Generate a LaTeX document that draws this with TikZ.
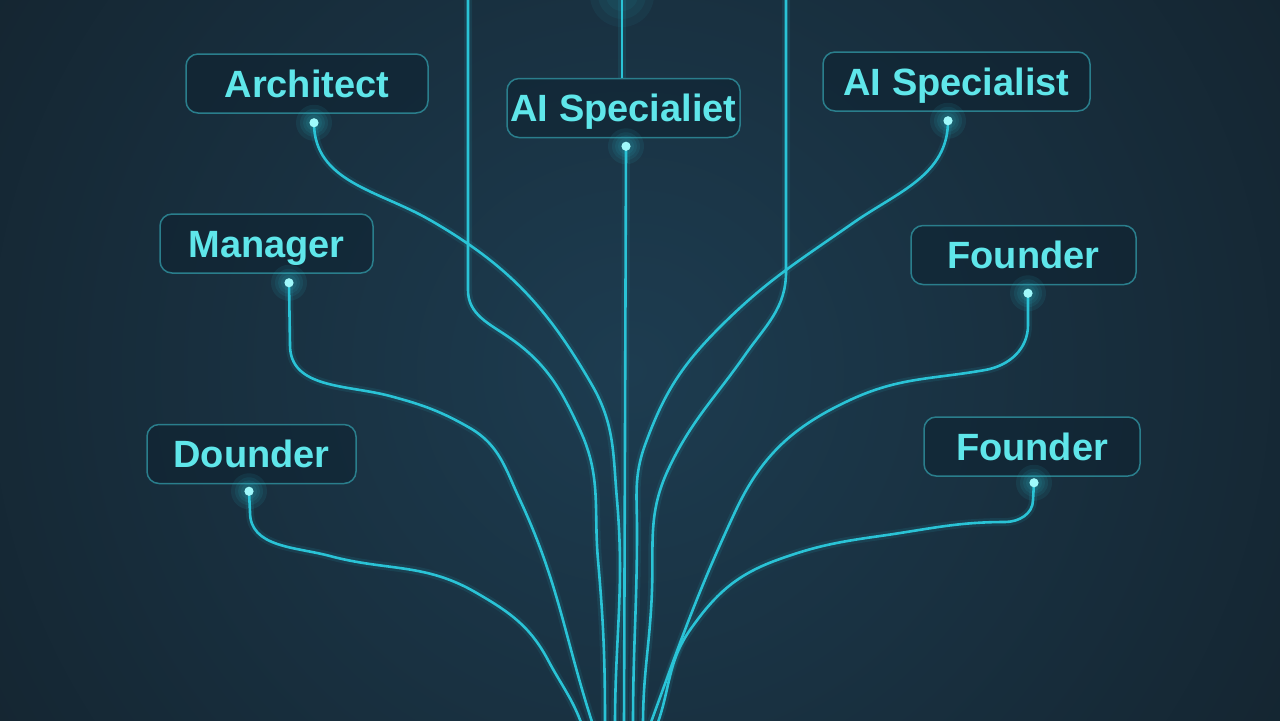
\documentclass[tikz,border=0pt]{standalone}
\usepackage{fontspec}
\setmainfont{Liberation Sans}
\usetikzlibrary{positioning, calc}
\definecolor{bgIn}{HTML}{1D3C50}
\definecolor{bgOut}{HTML}{0E151B}
\definecolor{wireCol}{HTML}{2AC3D6}
\definecolor{rimCol}{HTML}{2A7E8C}
\definecolor{labelCol}{HTML}{5FE6EA}
\definecolor{sparkCol}{HTML}{A0F9FB}
\definecolor{boxCol}{HTML}{0E2230}
\tikzset{
  role/.style={
    rectangle, draw=rimCol, line width=0.75pt, rounded corners=6pt,
    fill=boxCol, fill opacity=0.55, text opacity=1, text=labelCol,
    font=\bfseries\fontsize{19}{19}\selectfont,
    text height=13.6pt, text depth=0pt, minimum height=29.5pt, inner sep=0pt
  },
  wire/.style={draw=wireCol, line width=1.3pt,
    preaction={draw=wireCol, line width=4pt, opacity=0.1}},
  halo/.style={fill=wireCol, opacity=0.09},
  spark/.style={fill=sparkCol}
}

\begin{document}
\begin{tikzpicture}[x=0.5pt, y=-0.5pt]
    \useasboundingbox (0,0) rectangle (1280,720);
    \clip (0,0) rectangle (1280,720);
    \fill[bgOut] (0,0) rectangle (1280,720);
    \shade[inner color=bgIn, outer color=bgOut] (630,370) circle (640pt);

    % role boxes
    \node[role, minimum width=121pt] (arch) at (307,83.5) {Architect};
    \node[role, minimum width=116.5pt] (spA) at (623.5,108) {AI Specialiet};
    \node[role, minimum width=133.5pt] (spB) at (956.5,81.5) {AI Specialist};
    \node[role, minimum width=106.5pt] (man) at (266.5,243.5) {Manager};
    \node[role, minimum width=112.5pt] (foA) at (1023.5,255) {Founder};
    \node[role, minimum width=104.5pt] (dou) at (251.5,454) {Dounder};
    \node[role, minimum width=108pt] (foB) at (1032,446.5) {Founder};

    % ports under the boxes
    \coordinate (dArch) at ([xshift=3.5pt, yshift=-4.5pt]arch.south);
    \coordinate (dSpA) at ([xshift=1.25pt, yshift=-4pt]spA.south);
    \coordinate (dSpB) at ([xshift=-4.25pt, yshift=-4.5pt]spB.south);
    \coordinate (dMan) at ([xshift=11.25pt, yshift=-4.5pt]man.south);
    \coordinate (dFoA) at ([xshift=2.25pt, yshift=-4pt]foA.south);
    \coordinate (dDou) at ([xshift=-1.25pt, yshift=-3.5pt]dou.south);
    \coordinate (dFoB) at ([xshift=1pt, yshift=-3pt]foB.south);

    % free ends
    \coordinate (tL) at (468,-5);
    \coordinate (tC) at (622,-5);
    \coordinate (tR) at (786,-5);
    \coordinate (b1) at (582,725);
    \coordinate (b2) at (593,725);
    \coordinate (b3) at (605,725);
    \coordinate (b4) at (615,725);
    \coordinate (b5) at (624,725);
    \coordinate (b6) at (633,725);
    \coordinate (b7) at (643,725);
    \coordinate (b8) at (650,725);
    \coordinate (b9) at (657,725);

    % wires
    \draw[wire] (tC) -- (tC |- spA.north);
    \draw[wire] (dSpA) -- (b5);
    \draw[wire] (tL) -- (468,290) to[out=-90,in=145] (510,338)
      to[out=-35,in=115] (580,430) to[out=-65,in=95] (598,560)
      to[out=-85,in=90] (b3);
    \draw[wire] (tR) -- (786,272) to[out=-90,in=55] (745,355)
      to[out=-125,in=65] (668,470) to[out=-115,in=88] (652,590)
      to[out=-92,in=90] (b7);
    \draw[wire] (dArch) to[out=-90,in=150] (430,220)
      to[out=-30,in=120] (592,385) to[out=-60,in=95] (617,500)
      to[out=-85,in=90] (b4);
    \draw[wire] (dSpB) to[out=-90,in=35] (853,223)
      to[out=-145,in=45] (720,327) to[out=-135,in=70] (645,445)
      to[out=-110,in=90] (637,530) to[out=-90,in=90] (b6);
    \draw[wire] (dMan) -- (290,345) to[out=-90,in=165] (390,396)
      to[out=-15,in=150] (470,428) to[out=-30,in=115] (520,500)
      to[out=-65,in=108] (b2);
    \draw[wire] (dDou) -- (250,512) to[out=-90,in=165] (330,556)
      to[out=-15,in=150] (475,592) to[out=-30,in=118] (548,660)
      to[out=-62,in=110] (b1);
    \draw[wire] (dFoA) -- (1028,325) to[out=-90,in=10] (985,370)
      to[out=-170,in=25] (850,400) to[out=-155,in=65] (735,512)
      to[out=-115,in=70] (b8);
    \draw[wire] (dFoB) -- (1033,500) to[out=-90,in=0] (1005,522)
      to[out=180,in=8] (880,536) to[out=-172,in=20] (777,560)
      to[out=-160,in=55] (690,630) to[out=-125,in=70] (b9);

    % glowing ports
    \foreach \r in {16,12,8} {
      \fill[halo, opacity=0.06] (tC) circle (\r pt);
    }
    \foreach \p in {dArch,dSpA,dSpB,dMan,dFoA,dDou,dFoB} {
      \foreach \r in {9,7,5.5,4} {
        \fill[halo] (\p) circle (\r pt);
      }
      \fill[spark] (\p) circle (2.3pt);
    }
\end{tikzpicture}
\end{document}
